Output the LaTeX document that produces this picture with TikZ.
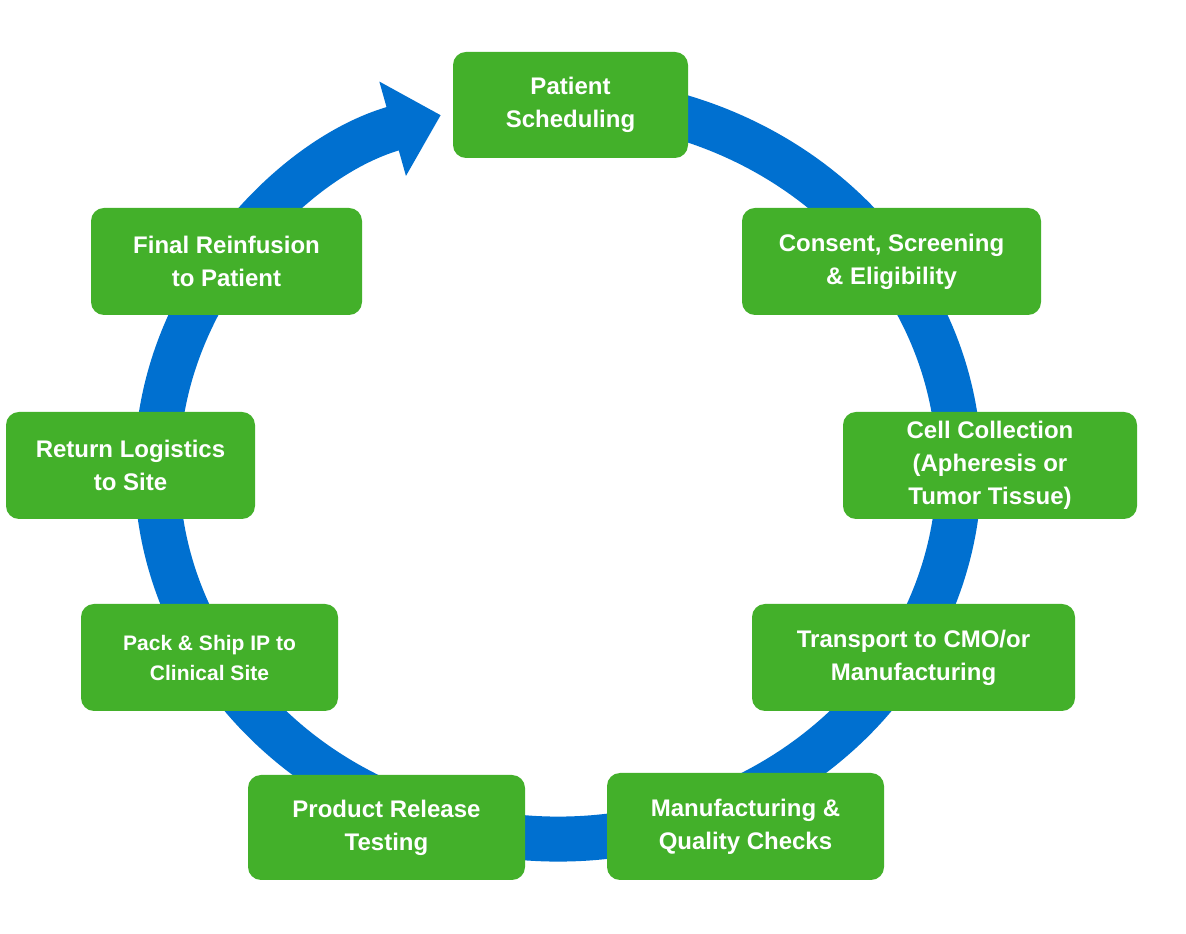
\documentclass[tikz,border=0pt]{standalone}
\usepackage{fontspec}
\setmainfont{Liberation Sans}
\usetikzlibrary{arrows.meta}
\definecolor{bx}{HTML}{43B02A}
\definecolor{ring}{HTML}{0070D0}
\begin{document}
\begin{tikzpicture}[x=1pt,y=1pt,
  box/.style={fill=bx,rounded corners=13pt,draw=none,text=white,align=center,
    font=\fontsize{24}{33}\selectfont\bfseries,inner sep=0pt}]
\useasboundingbox (0,0) rectangle (1186,934);
\fill[white] (0,0) rectangle (1186,934);
\draw[ring,line width=45pt,-{Triangle[width=95pt,length=50pt]}] (558,465) ++(75:401 and 370)
  arc[start angle=75,end angle=-253,x radius=401,y radius=370];
\node[box,minimum width=235pt,minimum height=106pt] (n1) at (570.5,829) {Patient\\Scheduling};
\node[box,minimum width=299pt,minimum height=107pt] (n2) at (891.5,672.5) {Consent, Screening\\\& Eligibility};
\node[box,minimum width=294pt,minimum height=107pt] (n3) at (990,468.5) {Cell Collection\\(Apheresis or\\Tumor Tissue)};
\node[box,minimum width=323pt,minimum height=107pt] (n4) at (913.5,276.5) {Transport to CMO/or\\Manufacturing};
\node[box,minimum width=277pt,minimum height=107pt] (n5) at (745.5,107.5) {Manufacturing \&\\Quality Checks};
\node[box,minimum width=277pt,minimum height=105pt] (n6) at (386.5,106.5) {Product Release\\Testing};
\node[box,minimum width=257pt,minimum height=107pt,font=\fontsize{21}{30}\selectfont\bfseries] (n7) at (209.5,276.5) {Pack \& Ship IP to\\Clinical Site};
\node[box,minimum width=249pt,minimum height=107pt] (n8) at (130.5,468.5) {Return Logistics\\to Site};
\node[box,minimum width=271pt,minimum height=107pt] (n9) at (226.5,672.5) {Final Reinfusion\\to Patient};
\end{tikzpicture}
\end{document}
